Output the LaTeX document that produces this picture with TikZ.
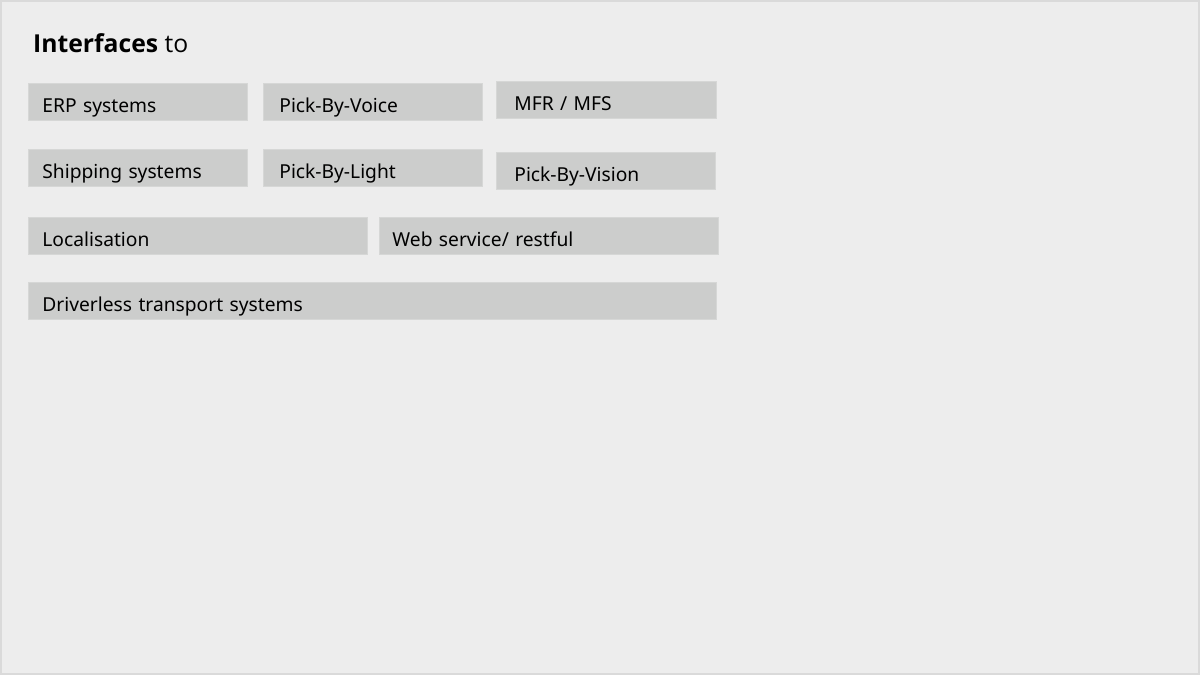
\documentclass[tikz,border=0pt]{standalone}
\usepackage{fontspec}
\setmainfont{Noto Sans}
\newfontfamily\headfont{Open Sans}
\usepackage{tikz}

\definecolor{pagegray}{HTML}{EDEDED}
\definecolor{framegray}{HTML}{DADADA}
\definecolor{boxgray}{HTML}{CCCDCC}
\definecolor{boxedge}{HTML}{D6D7D6}

\tikzset{
  box/.style={anchor=north west, fill=boxgray, draw=boxedge, line width=0.8bp,
    minimum height=37bp, inner ysep=0pt, text height=29bp, text depth=8bp,
    align=left, font=\fontsize{19.3}{22}\selectfont},
}

\begin{document}
\begin{tikzpicture}[x=1bp,y=-1bp]
\useasboundingbox (0,0) rectangle (1200,675);
\fill[pagegray] (0,0) rectangle (1200,675);
\draw[framegray,line width=2bp] (1,1) rectangle (1199,674);

\node[anchor=base west, inner sep=0pt, font=\headfont\fontsize{24.8}{28}\selectfont] (title) at (33,53) {\textbf{Interfaces} to};

% first row
\node[box, inner xsep=14bp, text width=191bp] (erp) at (28,83) {ERP systems};
\node[box, inner xsep=16bp, text width=187bp] (voice) at (263,83) {Pick-By-Voice};
\node[box, inner xsep=18bp, text width=184bp] (mfr) at (496,81) {MFR / MFS};

% second row
\node[box, inner xsep=14bp, text width=191bp] (shipping) at (28,149) {Shipping systems};
\node[box, inner xsep=16bp, text width=187bp] (light) at (263,149) {Pick-By-Light};
\node[box, inner xsep=18bp, text width=183bp] (vision) at (496,152) {Pick-By-Vision};

% third row
\node[box, inner xsep=14bp, text width=311bp] (local) at (28,217) {Localisation};
\node[box, inner xsep=13bp, text width=313bp] (web) at (379,217) {Web service/ restful};

% last row
\node[box, inner xsep=14bp, text width=660bp] (agv) at (28,282) {Driverless transport systems};
\end{tikzpicture}
\end{document}
